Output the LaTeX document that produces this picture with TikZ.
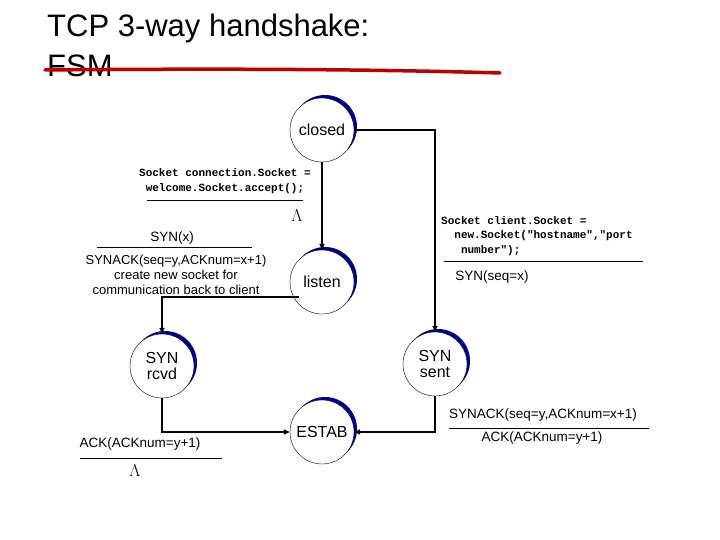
\documentclass[tikz,border=0pt]{standalone}
\usepackage{fontspec}
\setmainfont{Liberation Sans}
\setmonofont{Liberation Mono}
\usetikzlibrary{arrows.meta,shadows}

\begin{document}
\begin{tikzpicture}[
  x=1pt, y=-1pt,
  >={Triangle[length=6pt,width=5pt]},
  st/.style={draw, circle, fill=white, minimum size=64pt, inner sep=0pt,
    font=\fontsize{16}{16}\selectfont, align=center,
    drop shadow={shadow xshift=3pt, shadow yshift=3pt, fill=blue!55!black, opacity=1}},
  tr/.style={->, line width=1.5pt},
  lab/.style={font=\fontsize{13.5}{14}\selectfont, align=center, inner sep=0pt},
  code/.style={font=\ttfamily\bfseries\fontsize{11}{14.5}\selectfont, align=left, inner sep=0pt},
  bar/.style={line width=0.6pt}
]
\useasboundingbox (0,0) rectangle (720,540);

% --- Title ---
\node[anchor=north west, align=left, inner sep=0pt, font=\fontsize{31}{40}\selectfont]
  (title) at (47,14) {TCP 3-way handshake:\\FSM};
\draw[red!75!black, line width=3.5pt, line cap=round]
  (45,70) .. controls (250,68) and (400,70) .. (500,73);

% --- States ---
\node[st] (closed) at (322,130) {closed};
\node[st] (listen) at (322,282) {listen};
\node[st] (rcvd)   at (162,366) {SYN\\rcvd};
\node[st] (sent)   at (435,364) {SYN\\sent};
\node[st] (estab)  at (322,432) {ESTAB};

% --- Transitions ---
\draw[tr] (closed) -- (listen);
\draw[tr] (closed.east) -| (sent.north);
\draw[tr] (listen.south west |- 0,297) -| (rcvd.north);
\draw[tr] (rcvd.south) |- (estab.west);
\draw[tr] (sent.south) |- (estab.east);

% --- Labels: closed -> listen ---
\node[code, align=center] (srvsock) at (225,181) {Socket connection.Socket =\\ welcome.Socket.accept();};
\draw[bar] (147,200) -- (303,200);
\node[lab, font=\fontsize{17}{17}\selectfont] (lam1) at (297,216) {$\Lambda$};

% --- Labels: listen -> SYN rcvd ---
\node[lab] (synx) at (172,238) {SYN(x)};
\draw[bar] (97,247) -- (252,247);
\node[lab, font=\fontsize{13}{15}\selectfont] (synack1) at (176,275)
  {SYNACK(seq=y,ACKnum=x+1)\\create new socket for\\communication back to client};

% --- Labels: closed -> SYN sent ---
\node[code, anchor=west] (clisock) at (441,236) {Socket client.Socket =\\\ \ new.Socket("hostname","port\\\ \ \ number");};
\draw[bar] (444,261) -- (643,261);
\node[lab] (synseq) at (492,277) {SYN(seq=x)};

% --- Labels: SYN sent -> ESTAB ---
\node[lab] (synack2) at (543,415) {SYNACK(seq=y,ACKnum=x+1)};
\draw[bar] (449,428) -- (649,428);
\node[lab] (ack2) at (542,438) {ACK(ACKnum=y+1)};

% --- Labels: SYN rcvd -> ESTAB ---
\node[lab] (ack1) at (140,444) {ACK(ACKnum=y+1)};
\draw[bar] (80,458) -- (222,458);
\node[lab, font=\fontsize{17}{17}\selectfont] (lam2) at (135,471) {$\Lambda$};
\end{tikzpicture}
\end{document}
